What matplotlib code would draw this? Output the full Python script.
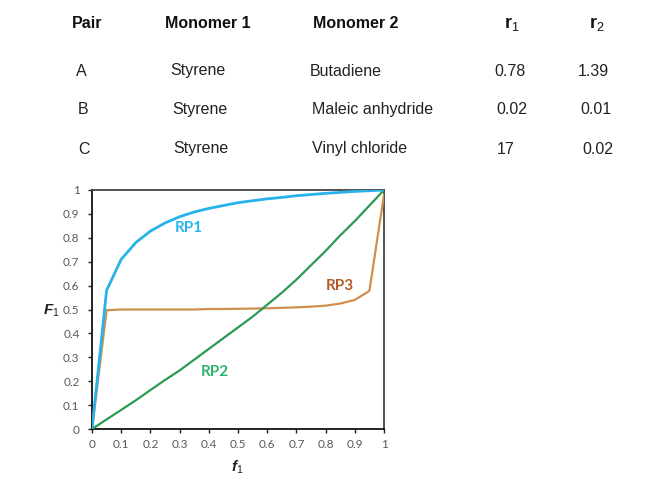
import matplotlib
matplotlib.use("Agg")
import matplotlib.pyplot as plt

plt.rcParams['font.family'] = ['Liberation Sans', 'DejaVu Sans']
plt.rcParams['mathtext.fontset'] = 'custom'
plt.rcParams['mathtext.rm'] = 'Liberation Sans'
plt.rcParams['mathtext.it'] = 'Liberation Sans:italic:bold'
plt.rcParams['mathtext.bf'] = 'Liberation Sans:bold'

# Table data
headers = ["Pair", "Monomer 1", "Monomer 2", r"r$_{\mathrm{1}}$", r"r$_{\mathrm{2}}$"]
pairs = ["A", "B", "C"]
monomer1 = ["Styrene", "Styrene", "Styrene"]
monomer2 = ["Butadiene", "Maleic anhydride", "Vinyl chloride"]
r1 = ["0.78", "0.02", "17"]
r2 = ["1.39", "0.01", "0.02"]

# Curve data
f1 = [0, 0.05, 0.1, 0.15, 0.2, 0.25, 0.3, 0.35, 0.4, 0.45, 0.5, 0.55, 0.6,
      0.65, 0.7, 0.75, 0.8, 0.85, 0.9, 0.95, 1.0]
rp1 = [0, 0.58, 0.71, 0.78, 0.828, 0.862, 0.888, 0.908, 0.923, 0.935, 0.947,
       0.955, 0.963, 0.969, 0.976, 0.981, 0.986, 0.990, 0.994, 0.997, 1.0]
rp2 = [0, 0.04, 0.08, 0.12, 0.163, 0.205, 0.245, 0.29, 0.335, 0.38, 0.425,
       0.47, 0.52, 0.57, 0.625, 0.685, 0.745, 0.81, 0.87, 0.935, 1.0]
rp3 = [0, 0.497, 0.5, 0.5, 0.5, 0.5, 0.5, 0.5, 0.502, 0.502, 0.503, 0.504,
       0.505, 0.507, 0.509, 0.512, 0.516, 0.525, 0.54, 0.578, 0.98]
ticks = [0, 0.1, 0.2, 0.3, 0.4, 0.5, 0.6, 0.7, 0.8, 0.9, 1]
tick_labels = ["0", "0.1", "0.2", "0.3", "0.4", "0.5", "0.6", "0.7", "0.8", "0.9", "1"]

W, H = 655, 490
fig = plt.figure(figsize=(W / 100, H / 100), dpi=100)

def px(x, y):
    return x / W, 1 - y / H

# Table
col_x = [72, 165, 313, 504, 589]
row_x = [[76, 170, 310, 494, 578],
         [78, 172, 312, 496, 580],
         [78, 173, 312, 497, 582]]
fs = 11.5
for x, h in zip(col_x, headers):
    big = h.startswith("r")
    fig.text(*px(x, 28 if big else 27.5), h, fontsize=13 if big else fs,
             fontweight='bold', color='#111111', ha='left', va='baseline')
rows_y = [75.5, 114, 153.5]
for i in range(3):
    vals = [pairs[i], monomer1[i], monomer2[i], r1[i], r2[i]]
    for x, v in zip(row_x[i], vals):
        fig.text(*px(x, rows_y[i]), v, fontsize=fs, color='#222222',
                 ha='left', va='baseline')

# Chart
l, r, t, b = 92, 384, 190, 429
ax = fig.add_axes([l / W, 1 - b / H, (r - l) / W, (b - t) / H])
ax.plot(f1, rp3, color='#D08F4C', lw=1.6, zorder=3)
ax.plot(f1, rp2, color='#2A9A55', lw=1.6, zorder=3)
ax.plot(f1, rp1, color='#27B2EA', lw=2.0, zorder=4)
ax.set_xlim(0, 1)
ax.set_ylim(0, 1)
ax.set_xticks(ticks)
ax.set_xticklabels(tick_labels, fontfamily=['Lato', 'DejaVu Sans'])
ax.set_yticks(ticks)
ax.set_yticklabels(tick_labels, fontfamily=['Lato', 'DejaVu Sans'])
ax.tick_params(axis='both', labelsize=8.5, labelcolor='#595959', length=3,
               width=1, color='#222222')
ax.tick_params(axis='y', pad=6)
ax.tick_params(axis='x', pad=4)
for s in ['left', 'bottom']:
    ax.spines[s].set_color('#111111')
    ax.spines[s].set_linewidth(1.3)
for s in ['top', 'right']:
    ax.spines[s].set_color('#444444')
    ax.spines[s].set_linewidth(1.3)

lab = dict(fontsize=11, fontweight='bold', ha='center', va='center',
           fontfamily=['Lato', 'DejaVu Sans'])
ax.text(0.33, 0.84, "RP1", color='#29B6EC', **lab)
ax.text(0.42, 0.24, "RP2", color='#2DB56B', **lab)
ax.text(0.85, 0.6, "RP3", color='#B35A25', **lab)

fig.text(*px(60, 311), r"$\mathit{F}_{\mathit{1}}$", fontsize=11, color='#222222',
         ha='right', va='center')
fig.text(*px(237, 467), r"$\mathit{f}_{\mathit{1}}$", fontsize=11, color='#222222',
         ha='center', va='center')

fig.savefig("out.png", dpi=100)
